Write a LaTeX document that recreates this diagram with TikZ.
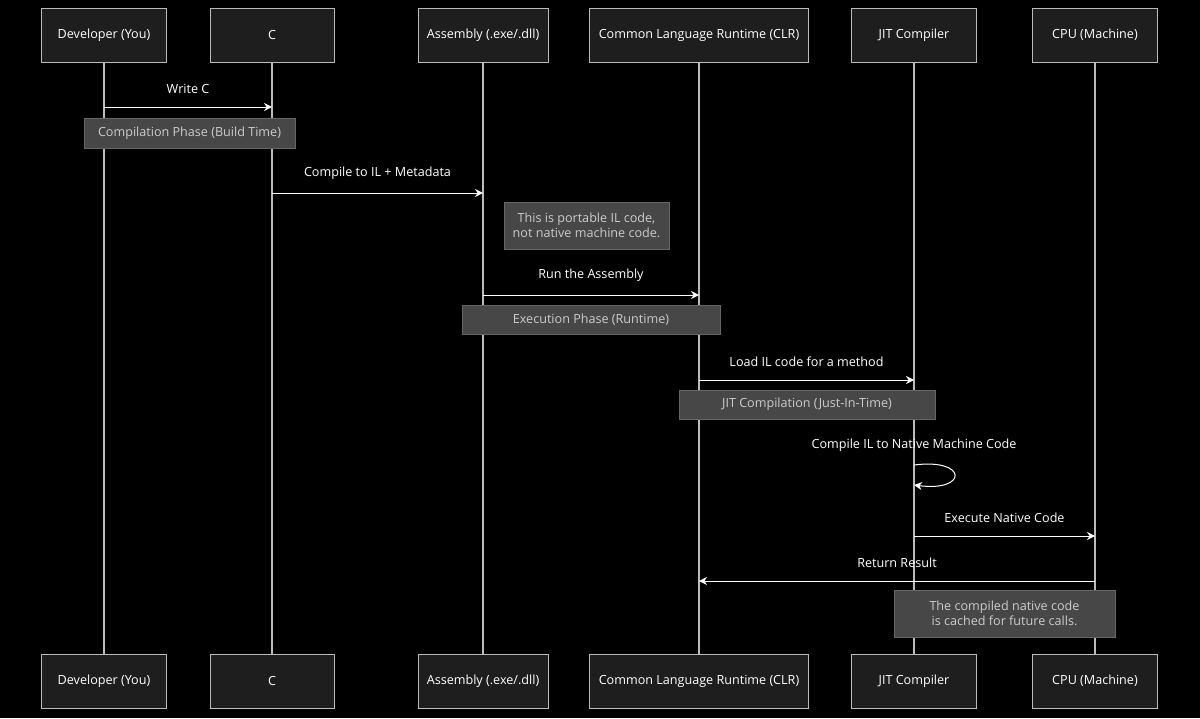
\documentclass[tikz,border=0pt]{standalone}
\usepackage{fontspec}
\setmainfont{Open Sans}
\usetikzlibrary{arrows.meta}
\definecolor{boxfill}{HTML}{1E1E1E}
\definecolor{boxline}{HTML}{BBBBBB}
\definecolor{notefill}{HTML}{474747}
\definecolor{noteline}{HTML}{666666}
\definecolor{notetext}{HTML}{CCCCCC}
\tikzset{
  actor/.style={draw=boxline,fill=boxfill,text=white,minimum height=27pt,inner sep=0pt,font=\fontsize{6.3}{8}\selectfont},
  note/.style={draw=noteline,fill=notefill,text=notetext,inner sep=0pt,align=center,font=\fontsize{6.3}{7.5}\selectfont},
  life/.style={boxline,line width=0.6pt},
  msg/.style={white,line width=0.5pt,-{Stealth[length=4pt,width=4pt]}},
  lbl/.style={text=white,font=\fontsize{6.3}{8}\selectfont}
}
\begin{document}
\begin{tikzpicture}[x=0.5pt,y=-0.5pt]
\fill[black] (0,0) rectangle (1200,718);
\useasboundingbox (0,0) rectangle (1200,718);
% actors, top and bottom
\foreach \n/\x/\w/\t in {dev/104/125/{Developer (You)},c/272/124/C,asm/483/130/{Assembly (.exe/.dll)},clr/699/219/{Common Language Runtime (CLR)},jit/914/125/{JIT Compiler},cpu/1095/125/{CPU (Machine)}}{
  \node[actor,minimum width=\w*0.5pt] (\n top) at (\x,35) {\t};
  \node[actor,minimum width=\w*0.5pt] (\n bot) at (\x,681) {\t};
  \draw[life] (\n top) -- (\n bot);
}
% messages
\coordinate (m1a) at (104,107); \coordinate (m1b) at (272,107);
\draw[msg] (m1a) -- node[lbl,above=3pt] {Write C} (m1b);
\node[note,minimum width=105.5pt,minimum height=15pt] (n1) at (189.5,133) {Compilation Phase (Build Time)};
\coordinate (m2a) at (272,193); \coordinate (m2b) at (483,193);
\draw[msg] (m2a) -- node[lbl,above=3pt] {Compile to IL + Metadata} (m2b);
\node[note,minimum width=82.5pt,minimum height=23.5pt] (n2) at (586.5,225.5) {This is portable IL code,\\not native machine code.};
\coordinate (m3a) at (483,295); \coordinate (m3b) at (699,295);
\draw[msg] (m3a) -- node[lbl,above=3pt] {Run the Assembly} (m3b);
\node[note,minimum width=129pt,minimum height=14.5pt] (n3) at (591,319.5) {Execution Phase (Runtime)};
\coordinate (m4a) at (699,380); \coordinate (m4b) at (914,380);
\draw[msg] (m4a) -- node[lbl,above=3pt] {Load IL code for a method} (m4b);
\node[note,minimum width=128pt,minimum height=14.5pt] (n4) at (807,404.5) {JIT Compilation (Just-In-Time)};
\coordinate (m5a) at (914,465); \coordinate (m5b) at (914,485);
\node[lbl] (l5) at (914,445) {Compile IL to Native Machine Code};
\draw[msg] (m5a) .. controls (968,458) and (968,492) .. (m5b);
\coordinate (m6a) at (914,536); \coordinate (m6b) at (1095,536);
\draw[msg] (m6a) -- node[lbl,above=3pt] {Execute Native Code} (m6b);
\coordinate (m7a) at (1095,581); \coordinate (m7b) at (699,581);
\draw[msg] (m7a) -- node[lbl,above=3pt] {Return Result} (m7b);
\node[note,minimum width=110.5pt,minimum height=23.5pt] (n5) at (1004.5,613.5) {The compiled native code\\is cached for future calls.};
\end{tikzpicture}
\end{document}
